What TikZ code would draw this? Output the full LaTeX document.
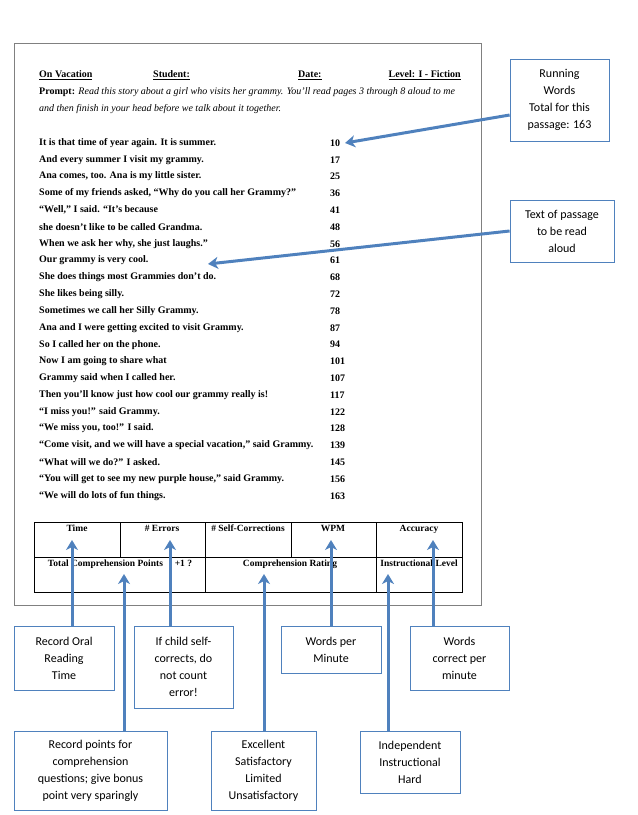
\documentclass[tikz,border=0pt]{standalone}
\usepackage{fontspec}
\setmainfont{Liberation Serif}
\newfontfamily\calib{Carlito}
\usetikzlibrary{arrows.meta}
\definecolor{ablue}{RGB}{79,129,189}
\begin{document}
\begin{tikzpicture}[x=1pt,y=-1pt,
  doc/.style={font=\fontsize{10}{11}\selectfont\bfseries,anchor=west,inner sep=0},
  call/.style={draw=ablue,fill=white,line width=0.8pt,font=\calib\fontsize{12}{17}\selectfont,align=center,inner sep=2pt},
  arr/.style={draw=ablue,line width=3pt,-{Stealth[length=10pt,width=12pt,inset=3pt]}},
  cell/.style={font=\fontsize{9.5}{10}\selectfont\bfseries,anchor=north,inner sep=0}]
\useasboundingbox (0,0) rectangle (638,815);
\draw[gray,line width=0.5pt] (14,43) rectangle (481,605);
\node[doc] (t1) at (39,75) {\underline{On Vacation}};
\node[doc] (t2) at (153,75) {\underline{Student:}};
\node[doc] (t3) at (298,75) {\underline{Date:}};
\node[doc,anchor=east] (t4) at (461,75) {\underline{Level: I - Fiction}};
\node[doc] (p1) at (39,92) {Prompt: \mdseries\itshape Read this story about a girl who visits her grammy. You'll read pages 3 through 8 aloud to me};
\node[doc] (p2) at (39,109) {\mdseries\itshape and then finish in your head before we talk about it together.};
\foreach \i/\s/\n in {0/{It is that time of year again. It is summer.}/10,
1/{And every summer I visit my grammy.}/17,
2/{Ana comes, too. Ana is my little sister.}/25,
3/{Some of my friends asked, ``Why do you call her Grammy?''}/36,
4/{``Well,'' I said. ``It's because}/41,
5/{she doesn't like to be called Grandma.}/48,
6/{When we ask her why, she just laughs.''}/56,
7/{Our grammy is very cool.}/61,
8/{She does things most Grammies don't do.}/68,
9/{She likes being silly.}/72,
10/{Sometimes we call her Silly Grammy.}/78,
11/{Ana and I were getting excited to visit Grammy.}/87,
12/{So I called her on the phone.}/94,
13/{Now I am going to share what}/101,
14/{Grammy said when I called her.}/107,
15/{Then you'll know just how cool our grammy really is!}/117,
16/{``I miss you!'' said Grammy.}/122,
17/{``We miss you, too!'' I said.}/128,
18/{``Come visit, and we will have a special vacation,'' said Grammy.}/139,
19/{``What will we do?'' I asked.}/145,
20/{``You will get to see my new purple house,'' said Grammy.}/156,
21/{``We will do lots of fun things.}/163}
  {\node[doc] (l\i) at (39,{143+\i*16.8}) {\s};
   \node[doc] (n\i) at (330,{143+\i*16.8}) {\n};}
% table
\draw[line width=0.7pt] (34,522) rectangle (462,592);
\draw[line width=0.7pt] (34,557) -- (462,557);
\foreach \x in {120,291} \draw[line width=0.7pt] (\x,522) -- (\x,557);
\foreach \x in {205,376} \draw[line width=0.7pt] (\x,522) -- (\x,592);
\node[cell] (c1) at (77,525) {Time};
\node[cell] (c2) at (162,525) {\# Errors};
\node[cell] (c3) at (248,525) {\# Self-Corrections};
\node[cell] (c4) at (333,525) {WPM};
\node[cell] (c5) at (419,525) {Accuracy};
\node[cell] (c6) at (120,560) {Total Comprehension Points \quad +1 ?};
\node[cell] (c7) at (290,560) {Comprehension Rating};
\node[cell] (c8) at (419,560) {Instructional Level};
% arrow targets
\coordinate (a1) at (345,143);
\coordinate (a2) at (208,264);
\coordinate (v1) at (72,540);
\coordinate (v2) at (170,540);
\coordinate (v3) at (331,540);
\coordinate (v4) at (433,540);
\coordinate (v5) at (124,574);
\coordinate (v6) at (264,574);
\coordinate (v7) at (388,574);
% callouts
\node[call,minimum width=99pt,minimum height=82pt] (b1) at (559.5,100) {Running\\Words\\Total for this\\passage: 163};
\node[call,minimum width=104pt,minimum height=62pt] (b2) at (562,231) {Text of passage\\to be read\\aloud};
\node[call,minimum width=100pt,minimum height=64pt] (b3) at (64,658) {Record Oral\\Reading\\Time};
\node[call,minimum width=99pt,minimum height=82pt] (b4) at (183.5,667) {If child self-\\corrects, do\\not count\\error!};
\node[call,minimum width=100pt,minimum height=47pt] (b5) at (331,649.5) {Words per\\Minute};
\node[call,minimum width=99pt,minimum height=64pt] (b6) at (459.5,658) {Words\\correct per\\minute};
\node[call,minimum width=153pt,minimum height=79pt] (b7) at (90.5,770.5) {Record points for\\comprehension\\questions; give bonus\\point very sparingly};
\node[call,minimum width=105pt,minimum height=79pt] (b8) at (263.5,770.5) {Excellent\\Satisfactory\\Limited\\Unsatisfactory};
\node[call,minimum width=100pt,minimum height=62pt] (b9) at (410,762) {Independent\\Instructional\\Hard};
\draw[arr] (b1.west |- 0,115) -- (a1);
\draw[arr] (b2.west) -- (a2);
\draw[arr] (b3.north -| v1) -- (v1);
\draw[arr] (b4.north -| v2) -- (v2);
\draw[arr] (b5.north -| v3) -- (v3);
\draw[arr] (b6.north -| v4) -- (v4);
\draw[arr] (b7.north -| v5) -- (v5);
\draw[arr] (b8.north -| v6) -- (v6);
\draw[arr] (b9.north -| v7) -- (v7);
\end{tikzpicture}
\end{document}
